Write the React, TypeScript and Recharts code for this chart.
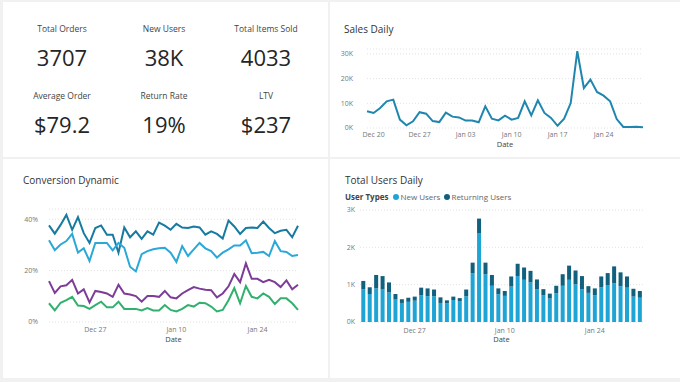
import React from 'react';
import {
  LineChart,
  Line,
  BarChart,
  Bar,
  XAxis,
  YAxis,
  CartesianGrid,
} from 'recharts';

const FONT = "'Segoe UI', 'Open Sans', sans-serif";

// KPI tiles
const kpiLabels = ['Total Orders', 'New Users', 'Total Items Sold', 'Average Order', 'Return Rate', 'LTV'];
const kpiValues = ['3707', '38K', '4033', '$79.2', '19%', '$237'];

// Dec 19 .. Jan 31
const days = [
  'Dec 19', 'Dec 20', 'Dec 21', 'Dec 22', 'Dec 23', 'Dec 24', 'Dec 25', 'Dec 26', 'Dec 27', 'Dec 28',
  'Dec 29', 'Dec 30', 'Dec 31', 'Jan 01', 'Jan 02', 'Jan 03', 'Jan 04', 'Jan 05', 'Jan 06', 'Jan 07',
  'Jan 08', 'Jan 09', 'Jan 10', 'Jan 11', 'Jan 12', 'Jan 13', 'Jan 14', 'Jan 15', 'Jan 16', 'Jan 17',
  'Jan 18', 'Jan 19', 'Jan 20', 'Jan 21', 'Jan 22', 'Jan 23', 'Jan 24', 'Jan 25', 'Jan 26', 'Jan 27',
  'Jan 28', 'Jan 29', 'Jan 30', 'Jan 31',
];

const salesTicks = ['Dec 20', 'Dec 27', 'Jan 03', 'Jan 10', 'Jan 17', 'Jan 24'];
const weekTicks = ['Dec 27', 'Jan 10', 'Jan 24'];

// Sales Daily (Dec 19 .. Jan 30)
const sales = [
  6800, 6100, 8100, 10800, 11500, 3400, 1100, 2700, 6400, 5800,
  2800, 2400, 6200, 4600, 4300, 3000, 3000, 2300, 8800, 3800,
  3100, 5000, 3400, 4100, 10800, 5100, 11200, 6100, 4100, 900,
  3800, 10100, 31100, 16200, 19600, 14600, 13100, 10800, 3600, 400,
  400, 500, 300,
];

// Conversion Dynamic, percent
const convA = [
  37.6, 34.4, 37.8, 41.7, 35.9, 40.8, 34.6, 30.8, 36.6, 37.6,
  34.0, 34.0, 27.0, 36.8, 33.0, 35.3, 32.4, 35.3, 34.0, 38.7,
  37.5, 35.9, 38.2, 36.8, 36.6, 37.2, 36.8, 34.0, 35.3, 34.3,
  32.5, 39.5, 37.2, 34.3, 36.6, 36.8, 36.6, 39.1, 36.6, 34.6,
  35.5, 35.9, 33.0, 37.5,
];
const convB = [
  31.8, 28.0, 30.2, 31.5, 34.3, 27.0, 28.7, 23.8, 30.8, 30.8,
  30.8, 27.9, 30.8, 28.9, 21.5, 19.7, 26.4, 27.6, 28.3, 28.7,
  28.9, 27.0, 23.4, 29.6, 25.7, 28.3, 30.8, 28.7, 27.6, 25.1,
  27.0, 28.3, 29.8, 29.8, 31.8, 26.8, 27.0, 27.3, 25.7, 31.5,
  27.6, 27.3, 25.7, 26.1,
];
const convC = [
  15.9, 11.3, 13.9, 14.3, 16.4, 11.1, 12.7, 7.6, 12.1, 11.7,
  11.1, 9.8, 14.5, 11.1, 10.7, 10.1, 7.9, 10.1, 10.1, 9.8,
  12.1, 9.6, 9.2, 11.1, 12.4, 13.6, 13.0, 12.6, 12.4, 9.6,
  11.1, 13.9, 18.7, 15.5, 22.8, 16.8, 16.8, 15.5, 16.4, 15.5,
  13.6, 16.2, 12.7, 14.5,
];
const convD = [
  7.3, 4.5, 7.5, 8.5, 9.8, 6.4, 6.2, 5.1, 6.6, 7.9,
  5.7, 5.7, 7.9, 5.1, 5.1, 5.1, 4.5, 5.4, 4.5, 4.5,
  6.6, 4.7, 4.1, 5.1, 6.6, 6.0, 7.5, 7.3, 6.0, 4.1,
  4.7, 8.5, 13.2, 7.3, 14.0, 9.8, 9.2, 11.1, 9.8, 7.0,
  9.2, 9.2, 7.3, 4.7,
];

// Total Users Daily
const newUsers = [
  880, 750, 900, 870, 790, 600, 510, 540, 570, 720,
  690, 690, 510, 500, 590, 560, 690, 1310, 2370, 1280,
  970, 740, 700, 950, 1230, 1130, 1060, 880, 720, 630,
  770, 970, 1130, 1010, 880, 780, 720, 930, 990, 1040,
  960, 920, 680, 650,
];
const returningUsers = [
  220, 180, 360, 360, 270, 150, 100, 110, 110, 200,
  210, 180, 150, 80, 90, 80, 180, 280, 400, 310,
  290, 160, 130, 270, 330, 330, 310, 260, 160, 130,
  200, 310, 380, 370, 350, 180, 180, 290, 320, 450,
  370, 300, 210, 180,
];

const salesData = sales.map((v, i) => ({ date: days[i], sales: v }));
const convData = days.map((d, i) => ({ date: d, a: convA[i], b: convB[i], c: convC[i], d: convD[i] }));
const usersData = days.map((d, i) => ({ date: d, newUsers: newUsers[i], returning: returningUsers[i] }));

const tickStyle = { fontSize: 7, fill: '#777', fontFamily: FONT };
const dateLabel = { value: 'Date', position: 'insideBottom' as const, offset: 0, fontSize: 7.5, fill: '#444', fontFamily: FONT };

function Card({ left, top, width, height }: { left: number; top: number; width: number; height: number }) {
  return <div style={{ position: 'absolute', left, top, width, height, background: '#fff' }} />;
}

function Title({ x, y, text }: { x: number; y: number; text: string }) {
  return (
    <div style={{ position: 'absolute', left: x, top: y, fontSize: 10, color: '#333', fontFamily: FONT, lineHeight: '12px', whiteSpace: 'nowrap' }}>
      {text}
    </div>
  );
}

function Kpi({ label, value, cx, y }: { label: string; value: string; cx: number; y: number }) {
  return (
    <>
      <div style={{ position: 'absolute', left: cx - 60, top: y - 6, width: 120, textAlign: 'center', fontSize: 8.5, color: '#444', fontFamily: FONT, lineHeight: '12px' }}>
        {label}
      </div>
      <div style={{ position: 'absolute', left: cx - 60, top: y + 14, width: 120, textAlign: 'center', fontSize: 22, color: '#252525', fontFamily: FONT, lineHeight: '28px' }}>
        {value}
      </div>
    </>
  );
}

export default function App() {
  const cols = [62, 164, 266];
  return (
    <div style={{ position: 'absolute', left: 0, top: 0, width: 680, height: 382, background: '#f1f1f1', overflow: 'hidden' }}>
      <Card left={3} top={2} width={325} height={155} />
      <Card left={330} top={2} width={350} height={155} />
      <Card left={3} top={159} width={325} height={219} />
      <Card left={330} top={159} width={350} height={219} />

      {kpiLabels.map((label, i) => (
        <Kpi key={label} label={label} value={kpiValues[i]} cx={cols[i % 3]} y={i < 3 ? 29 : 96} />
      ))}

      {/* Sales Daily */}
      <Title x={344} y={23} text="Sales Daily" />
      <div style={{ position: 'absolute', left: 330, top: 40 }}>
        <LineChart width={340} height={110} data={salesData} margin={{ top: 9, right: 27, bottom: 3, left: 0 }}>
          <CartesianGrid vertical={false} stroke="#e2e2e2" strokeDasharray="1 2" />
          <XAxis dataKey="date" ticks={salesTicks} interval={0} tick={tickStyle} tickSize={0} tickMargin={4} axisLine={false} height={19} label={dateLabel} />
          <YAxis domain={[0, 32000]} ticks={[0, 10000, 20000, 30000]} tickFormatter={(v) => `${v / 1000}K`} tick={tickStyle} tickSize={0} tickMargin={14} axisLine={false} width={37} />
          <Line type="linear" dataKey="sales" stroke="#1f87ae" strokeWidth={2} dot={false} isAnimationActive={false} />
        </LineChart>
      </div>

      {/* Conversion Dynamic */}
      <Title x={23} y={174} text="Conversion Dynamic" />
      <div style={{ position: 'absolute', left: 0, top: 200 }}>
        <LineChart width={328} height={150} data={convData} margin={{ top: 9, right: 30, bottom: 8, left: 0 }}>
          <CartesianGrid vertical={false} stroke="#e2e2e2" strokeDasharray="1 2" />
          <XAxis dataKey="date" ticks={weekTicks} interval={0} tick={tickStyle} tickSize={0} tickMargin={5} axisLine={false} height={20} label={dateLabel} />
          <YAxis domain={[0, 44]} ticks={[0, 20, 40]} tickFormatter={(v) => `${v}%`} tick={tickStyle} tickSize={0} tickMargin={11} axisLine={false} width={49} />
          <Line type="linear" dataKey="a" stroke="#167aa1" strokeWidth={2} dot={false} isAnimationActive={false} />
          <Line type="linear" dataKey="b" stroke="#2aa8d8" strokeWidth={2} dot={false} isAnimationActive={false} />
          <Line type="linear" dataKey="c" stroke="#7d3c98" strokeWidth={2} dot={false} isAnimationActive={false} />
          <Line type="linear" dataKey="d" stroke="#31b06e" strokeWidth={2} dot={false} isAnimationActive={false} />
        </LineChart>
      </div>

      {/* Total Users Daily */}
      <Title x={345} y={174} text="Total Users Daily" />
      <div style={{ position: 'absolute', left: 345, top: 192, display: 'flex', alignItems: 'center', fontSize: 8, fontFamily: FONT, lineHeight: '10px', whiteSpace: 'nowrap' }}>
        <span style={{ fontWeight: 'bold', color: '#444', marginRight: 5 }}>User Types</span>
        <span style={{ width: 6, height: 6, borderRadius: 3, background: '#1fa4d6', marginRight: 1 }} />
        <span style={{ color: '#666', marginRight: 4 }}>New Users</span>
        <span style={{ width: 6, height: 6, borderRadius: 3, background: '#11607e', marginRight: 1 }} />
        <span style={{ color: '#666' }}>Returning Users</span>
      </div>
      <div style={{ position: 'absolute', left: 330, top: 200 }}>
        <BarChart width={340} height={150} data={usersData} margin={{ top: 10, right: 27, bottom: 8, left: 0 }} barCategoryGap="20%">
          <CartesianGrid vertical={false} stroke="#e2e2e2" strokeDasharray="1 2" />
          <XAxis dataKey="date" ticks={weekTicks} interval={0} tick={tickStyle} tickSize={0} tickMargin={6} axisLine={false} height={20} label={dateLabel} />
          <YAxis domain={[0, 3000]} ticks={[0, 1000, 2000, 3000]} tickFormatter={(v) => `${v / 1000}K`} tick={tickStyle} tickSize={0} tickMargin={5} axisLine={false} width={30} />
          <Bar dataKey="newUsers" stackId="u" fill="#1fa4d6" isAnimationActive={false} />
          <Bar dataKey="returning" stackId="u" fill="#11607e" isAnimationActive={false} />
        </BarChart>
      </div>
    </div>
  );
}
